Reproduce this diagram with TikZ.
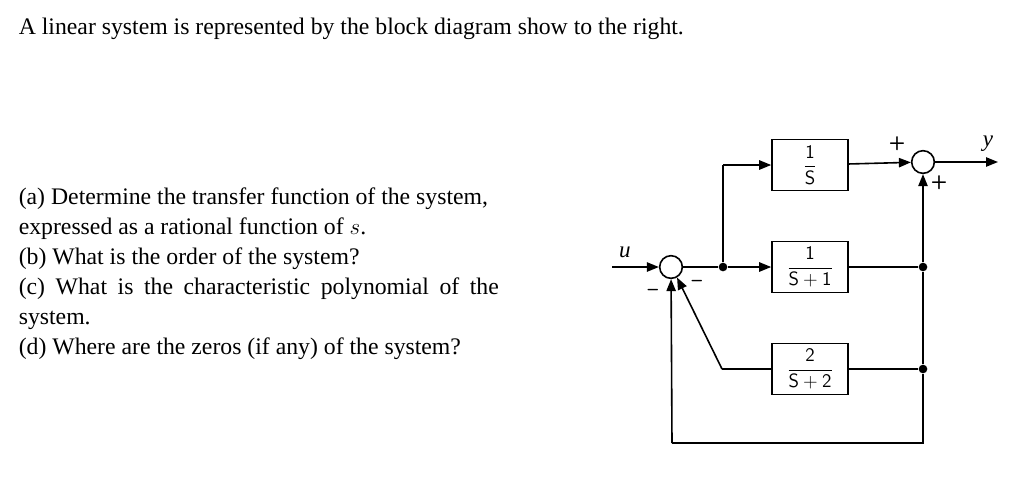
\documentclass[tikz,border=0pt]{standalone}
\usepackage{fontspec}
\setmainfont{Liberation Serif}
\usetikzlibrary{arrows.meta}
\begin{document}
\begin{tikzpicture}[x=0.75pt,y=-0.75pt,
  line width=1.2pt,
  blk/.style={draw,line width=1.2pt,minimum width=57pt,minimum height=38pt,inner sep=0pt,font=\sffamily\Large},
  sum/.style={draw,circle,line width=1.2pt,minimum size=17pt,inner sep=0pt},
  dot/.style={circle,fill,inner sep=0pt,minimum size=6.5pt},
  arr/.style={-{Triangle[length=9pt,width=7pt]}},
  txt/.style={anchor=west,font=\fontsize{17.8pt}{21pt}\selectfont,inner sep=0pt},
  sg/.style={font=\sffamily\bfseries\Large,inner sep=0pt}]
\useasboundingbox (0,0) rectangle (1024,487);
\node[txt] (t0) at (18,29) {A linear system is represented by the block diagram show to the right.};
\node[txt,text width=360pt,align=justify,anchor=north west,font=\fontsize{17.8pt}{22.5pt}\selectfont] (t1) at (18,187)
{(a) Determine the transfer function of the system,\\
expressed as a rational function of $s$.\\
(b) What is the order of the system?\\
(c) What is the characteristic polynomial of the\linebreak
system.\\
(d) Where are the zeros (if any) of the system?};
% diagram
\node[sum] (s1) at (671,267) {};
\node[sum] (s2) at (923,162) {};
\node[blk] (b1) at (810,165) {$\displaystyle\frac{\mathsf{1}}{\mathsf{S}}$};
\node[blk] (b2) at (810,267) {$\displaystyle\frac{\mathsf{1}}{\mathsf{S+1}}$};
\node[blk] (b3) at (810,369) {$\displaystyle\frac{\mathsf{2}}{\mathsf{S+2}}$};
\node[dot] (d1) at (723,267) {};
\node[dot] (d2) at (923,267) {};
\node[dot] (d3) at (923,369) {};
\coordinate (in) at (612,267);
\coordinate (out) at (998,162);
\coordinate (tl) at (723,165);
\coordinate (bl) at (722,369);
\coordinate (bot1) at (923,443);
\coordinate (bot2) at (672,443);
\node[font=\itshape\LARGE] (u) at (625,252) {u};
\node[font=\itshape\LARGE] (y) at (988,144) {y};
\node[sg] (p1) at (897,144) {+};
\node[sg] (p2) at (939,183) {+};
\node[sg] (m1) at (653,292) {--};
\node[sg] (m2) at (697,283) {--};
\draw[arr] (in) -- (s1);
\draw (s1) -- (d1);
\draw[arr] (d1) -- (b2);
\draw (d1) -- (tl);
\draw[arr] (tl) -- (b1);
\draw[arr] (b1) -- (s2);
\draw[arr] (s2) -- (out);
\draw (b2) -- (d2);
\draw (b3) -- (d3);
\draw[arr] (d2) -- (s2);
\draw (d2) -- (d3) -- (bot1) -- (bot2);
\draw[arr] (bot2) -- (s1);
\draw (b3) -- (bl);
\draw[arr] (bl) -- (s1.-60);
\end{tikzpicture}
\end{document}
